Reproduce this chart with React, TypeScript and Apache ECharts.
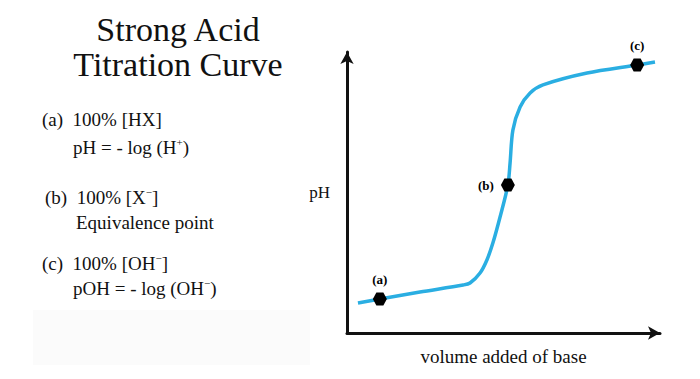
import React, { useEffect, useRef } from "react";
import * as echarts from "echarts";

const volume = [3.5, 10.5, 23.3, 37.1, 39.3, 42.5, 44.7, 46.6, 48.9, 51.4, 52.1, 53.0, 55.3, 58.5, 62.6, 76.7, 92.7, 98.4];
const ph = [1.49, 1.69, 2.04, 2.39, 2.49, 2.99, 3.64, 4.48, 5.78, 7.37, 8.47, 10.11, 11.26, 11.96, 12.36, 12.95, 13.35, 13.5];
const pointNames = ["(a)", "(b)", "(c)"];
const pointX = [10.5, 51.4, 92.7];
const pointY = [1.69, 7.37, 13.35];
const pointLabelPos = ["top", "left", "top"];

const titleLines = ["Strong Acid", "Titration Curve"];
// rich-text notes: {s|...} marks a small superscript
const notes = [
  "(a)  100% [HX]",
  "pH = - log (H{s|+})",
  "(b)  100% [X{s|−}]",
  "Equivalence point",
  "(c)  100% [OH{s|−}]",
  "pOH = - log (OH{s|−})",
];

const FONT = "'Liberation Serif', 'DejaVu Serif', serif";
const HEX = "path://M0,5 L2.9,0 L8.7,0 L11.6,5 L8.7,10 L2.9,10 Z";

export default function App() {
  const ref = useRef<HTMLDivElement>(null);
  useEffect(() => {
    const chart = echarts.init(ref.current!, undefined, { renderer: "svg" });
    const noteX = [42, 73, 45, 76, 42, 73];
    const noteY = [119, 147, 197, 222, 263, 288];
    chart.setOption({
      animation: false,
      backgroundColor: "#ffffff",
      textStyle: { fontFamily: FONT },
      grid: { left: 347, right: 40, top: 52, bottom: 46 },
      xAxis: {
        type: "value",
        min: 0,
        max: 100,
        name: "volume added of base",
        nameLocation: "middle",
        nameGap: 14,
        nameTextStyle: { fontFamily: FONT, fontSize: 19, color: "#111" },
        axisLine: { lineStyle: { color: "#111", width: 3 }, symbol: ["none", "arrow"], symbolSize: [10, 12] },
        axisTick: { show: false },
        axisLabel: { show: false },
        splitLine: { show: false },
      },
      yAxis: {
        type: "value",
        min: 0,
        max: 14,
        name: "pH",
        nameLocation: "middle",
        nameRotate: 0,
        nameGap: 17,
        nameTextStyle: { fontFamily: FONT, fontSize: 17, color: "#111" },
        axisLine: { lineStyle: { color: "#111", width: 3 }, symbol: ["none", "arrow"], symbolSize: [10, 12] },
        axisTick: { show: false },
        axisLabel: { show: false },
        splitLine: { show: false },
      },
      graphic: [
        { type: "rect", shape: { x: 33, y: 310, width: 277, height: 55 }, style: { fill: "#fbfbfb" }, z: -1 },
        ...titleLines.map((t, i) => ({
          type: "text",
          x: 178,
          y: 29 + i * 35,
          style: { text: t, fontFamily: FONT, fontSize: 34, fill: "#111", align: "center", verticalAlign: "middle" },
        })),
        ...notes.map((t, i) => ({
          type: "text",
          x: noteX[i],
          y: noteY[i],
          style: {
            text: t,
            fontFamily: FONT,
            fontSize: 19,
            fill: "#111",
            align: "left",
            verticalAlign: "middle",
            rich: {
              s: { fontFamily: FONT, fontSize: 11, fill: "#111", verticalAlign: "top", lineHeight: 22 },
            },
          },
        })),
      ],
      series: [
        {
          type: "line",
          data: volume.map((v, i) => [v, ph[i]]),
          smooth: 0.3,
          showSymbol: false,
          lineStyle: { color: "#2aaee2", width: 3.5 },
          z: 2,
        },
        {
          type: "scatter",
          data: pointX.map((v, i) => ({
            value: [v, pointY[i]],
            name: pointNames[i],
            label: { position: pointLabelPos[i] },
          })),
          symbol: HEX,
          symbolSize: [14, 13],
          itemStyle: { color: "#000", opacity: 1 },
          label: {
            show: true,
            formatter: (p: any) => p.name,
            fontFamily: FONT,
            fontSize: 13,
            fontWeight: "bold",
            color: "#000",
            distance: 7,
          },
          z: 3,
        },
      ],
    });
    return () => chart.dispose();
  }, []);
  return <div ref={ref} style={{ width: 700, height: 379, position: "absolute", left: 0, top: 0 }} />;
}
